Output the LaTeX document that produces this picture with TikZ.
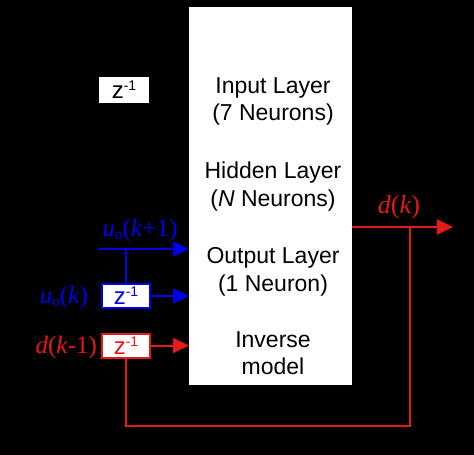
\documentclass[tikz,border=0pt]{standalone}
\usepackage{fontspec}
\setmainfont{Liberation Serif}
\newfontfamily\arialf{Liberation Sans}
\usetikzlibrary{arrows.meta}
\definecolor{myblue}{RGB}{0,0,240}
\definecolor{myred}{RGB}{230,25,25}
\newcommand\zinv{z\raisebox{8pt}{\fontsize{14}{14}\selectfont -1}}
\newcommand\subo{\raisebox{-3pt}{\fontsize{15}{15}\selectfont o}}
\begin{document}
\begin{tikzpicture}[x=1pt,y=-1pt,
  every node/.style={inner sep=0pt,outer sep=0pt},
  layertext/.style={font=\arialf\fontsize{23}{23}\selectfont,anchor=base,text=black},
  zbox/.style={fill=white,minimum width=48pt,minimum height=24pt,line width=2pt,font=\arialf\fontsize{24}{24}\selectfont},
  lbl/.style={font=\fontsize{25}{25}\selectfont},
  sig/.style={line width=2pt},
  arr/.style={sig,-{Triangle[length=16pt,width=15pt]}},
]
\fill[black] (0,0) rectangle (474,455);
\useasboundingbox (0,0) rectangle (474,455);
\node[fill=white,minimum width=163pt,minimum height=378pt] (nn) at (270.5,196) {};
\node[layertext] (t1) at (273,93) {Input Layer};
\node[layertext] (t2) at (273,120) {(7 Neurons)};
\node[layertext] (t3) at (273,178) {Hidden Layer};
\node[layertext] (t4) at (273,206) {(\textit{N} Neurons)};
\node[layertext] (t5) at (273,263) {Output Layer};
\node[layertext] (t6) at (273,291) {(1 Neuron)};
\node[layertext] (t7) at (273,347) {Inverse};
\node[layertext] (t8) at (273,374) {model};
\node[zbox,minimum width=50pt,minimum height=26pt] (zt) at (124,90) {\zinv};
\node[zbox,draw=myblue,text=myblue] (zb) at (126,296) {\zinv};
\node[zbox,draw=myred,text=myred] (zr) at (126,345.5) {\zinv};
\node[lbl,text=myblue,anchor=base] (luk1) at (140,236) {\textit{u}\subo(\textit{k}+1)};
\node[lbl,text=myblue,anchor=base east] (luk) at (88,303) {\textit{u}\subo(\textit{k})};
\node[lbl,text=myred,anchor=base east] (ldk1) at (97,353) {\textit{d}(\textit{k}-1)};
\node[lbl,text=myred,anchor=base,font=\fontsize{26}{26}\selectfont] (ldk) at (399,213) {\textit{d}(\textit{k})};
\coordinate (bs) at (98,249);
\draw[arr,myblue] (bs) -- (bs -| nn.west);
\draw[sig,myblue] (bs -| zb.north) -- (zb.north);
\draw[arr,myblue] (zb.east) -- (zb.east -| nn.west);
\draw[arr,myred] (zr.east) -- (zr.east -| nn.west);
\coordinate (dk) at (453,227);
\draw[arr,myred] (nn.east |- dk) -- (dk);
\coordinate (fb) at (410,426);
\draw[sig,myred] (zr.south) |- (fb) -- (fb |- dk);
\end{tikzpicture}
\end{document}
